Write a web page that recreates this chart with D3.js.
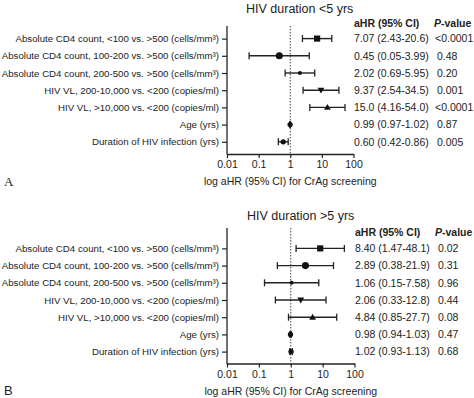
<!DOCTYPE html>
<html>
<head>
<meta charset="utf-8">
<script src="https://cdn.jsdelivr.net/npm/d3@7"></script>
<style>
  body { margin: 0; background: #fff; }
  text { font-family: "Liberation Sans", Arial, sans-serif; fill: #222; }
</style>
</head>
<body>
<div id="chart-area"></div>
<script>
// row labels (same for both panels)
const labels = [
    "Absolute CD4 count, <100 vs. >500 (cells/mm³)",
    "Absolute CD4 count, 100-200 vs. >500 (cells/mm³)",
    "Absolute CD4 count, 200-500 vs. >500 (cells/mm³)",
    "HIV VL, 200-10,000 vs. <200 (copies/ml)",
    "HIV VL, >10,000 vs. <200 (copies/ml)",
    "Age (yrs)",
    "Duration of HIV infection (yrs)"
]
const markers = ["square", "circle", "dot", "triDown", "triUp", "circleSm", "circleSm"]

// panel A: HIV duration <5 yrs
const hrA = [7.07, 0.45, 2.02, 9.37, 15.0, 0.99, 0.60]
const loA = [2.43, 0.05, 0.69, 2.54, 4.16, 0.97, 0.42]
const hiA = [20.6, 3.99, 5.95, 34.5, 54.0, 1.02, 0.86]
const ciTextA = ["7.07 (2.43-20.6)", "0.45 (0.05-3.99)", "2.02 (0.69-5.95)", "9.37 (2.54-34.5)",
    "15.0 (4.16-54.0)", "0.99 (0.97-1.02)", "0.60 (0.42-0.86)"]
const pA = ["<0.0001", "0.48", "0.20", "0.001", "<0.0001", "0.87", "0.005"]

// panel B: HIV duration >5 yrs
const hrB = [8.40, 2.89, 1.06, 2.06, 4.84, 0.98, 1.02]
const loB = [1.47, 0.38, 0.15, 0.33, 0.85, 0.94, 0.93]
const hiB = [48.1, 21.9, 7.58, 12.8, 27.7, 1.03, 1.13]
const ciTextB = ["8.40 (1.47-48.1)", "2.89 (0.38-21.9)", "1.06 (0.15-7.58)", "2.06 (0.33-12.8)",
    "4.84 (0.85-27.7)", "0.98 (0.94-1.03)", "1.02 (0.93-1.13)"]
const pB = ["0.02", "0.31", "0.96", "0.44", "0.08", "0.47", "0.68"]

const xTicks = [0.01, 0.1, 1, 10, 100]
const xTickLabels = ["0.01", "0.1", "1", "10", "100"]

const svg = d3.select("#chart-area")
    .append("svg")
    .attr("width", 474)
    .attr("height", 398)

const symbolFor = {
    square: { type: d3.symbolSquare, size: 38, rot: 0 },
    circle: { type: d3.symbolCircle, size: 40, rot: 0 },
    dot: { type: d3.symbolCircle, size: 13, rot: 0 },
    triDown: { type: d3.symbolTriangle, size: 20, rot: 180 },
    triUp: { type: d3.symbolTriangle, size: 20, rot: 0 },
    circleSm: { type: d3.symbolCircle, size: 22, rot: 0 }
}

function drawPanel(p) {
    const g = svg.append("g")

    const x = d3.scaleLog()
        .domain([0.01, 100])
        .range([227, p.xEnd])

    const y = d3.scalePoint()
        .domain(labels)
        .range([p.row1, p.row1 + 17.2 * 6])

    // x axis
    const xAxisCall = d3.axisBottom(x)
        .tickValues(xTicks)
        .tickFormat((d, i) => xTickLabels[i])
        .tickSize(4)
        .tickSizeOuter(0)
    const xa = g.append("g")
        .attr("transform", `translate(0, ${p.axisY})`)
        .call(xAxisCall)
    xa.select(".domain").attr("stroke", "#222").attr("stroke-width", 1.3)
    xa.selectAll(".tick line").attr("stroke", "#222").attr("stroke-width", 1.2)
    xa.selectAll("text").attr("font-size", "10.5px").attr("fill", "#222")
        .attr("font-family", "Liberation Sans, Arial, sans-serif").attr("y", 7)

    // y axis
    const yAxisCall = d3.axisLeft(y).tickSize(5).tickSizeOuter(0).tickPadding(3)
    const ya = g.append("g")
        .attr("transform", `translate(227, 0)`)
        .call(yAxisCall)
    ya.select(".domain").remove()
    ya.selectAll(".tick line").attr("stroke", "#222").attr("stroke-width", 1.2)
    ya.selectAll("text").attr("font-size", "9.7px").attr("fill", "#222")
        .attr("font-family", "Liberation Sans, Arial, sans-serif")
    g.append("line")
        .attr("x1", 227).attr("x2", 227)
        .attr("y1", p.axisTop).attr("y2", p.axisY + 0.6)
        .attr("stroke", "#222").attr("stroke-width", 1.3)

    // reference line at 1
    g.append("line")
        .attr("x1", x(1)).attr("x2", x(1))
        .attr("y1", p.axisTop).attr("y2", p.axisY)
        .attr("stroke", "#444").attr("stroke-width", 1)
        .attr("stroke-dasharray", "1.5,1.5")

    // error bars
    const rows = labels.map((l, i) => ({ label: l, hr: p.hr[i], lo: p.lo[i], hi: p.hi[i], mk: markers[i] }))
    const bars = g.selectAll(".bar").data(rows).enter().append("g")
    bars.append("line")
        .attr("x1", d => x(d.lo)).attr("x2", d => x(d.hi))
        .attr("y1", d => y(d.label)).attr("y2", d => y(d.label))
        .attr("stroke", "#222").attr("stroke-width", 1.4)
    bars.append("line")
        .attr("x1", d => x(d.lo)).attr("x2", d => x(d.lo))
        .attr("y1", d => y(d.label) - 3.5).attr("y2", d => y(d.label) + 3.5)
        .attr("stroke", "#222").attr("stroke-width", 1.3)
    bars.append("line")
        .attr("x1", d => x(d.hi)).attr("x2", d => x(d.hi))
        .attr("y1", d => y(d.label) - 3.5).attr("y2", d => y(d.label) + 3.5)
        .attr("stroke", "#222").attr("stroke-width", 1.3)
    bars.append("path")
        .attr("d", d => d3.symbol().type(symbolFor[d.mk].type).size(symbolFor[d.mk].size)())
        .attr("transform", d => `translate(${x(d.hr)}, ${y(d.label) + (d.mk === "triDown" ? -0.5 : d.mk === "triUp" ? 0.5 : 0)}) rotate(${symbolFor[d.mk].rot})`)
        .attr("fill", "#111")

    // text columns
    g.selectAll(".ci").data(p.ciText).enter().append("text")
        .attr("x", p.ciX)
        .attr("y", (d, i) => y(labels[i]) + 3.8)
        .attr("font-size", "10.5px")
        .text(d => d)
    g.selectAll(".pv").data(p.pv).enter().append("text")
        .attr("x", (d, i) => p.pX + (d[0] === "<" ? -2 : 0))
        .attr("y", (d, i) => y(labels[i]) + 3.8)
        .attr("font-size", "10.5px")
        .text(d => d)

    // headers
    g.append("text")
        .attr("x", p.ciX).attr("y", p.headY)
        .attr("font-size", "10.5px").attr("font-weight", "bold")
        .text("aHR (95% CI)")
    const ph = g.append("text")
        .attr("x", p.pX - 3).attr("y", p.headY)
        .attr("font-size", "10.5px").attr("font-weight", "bold")
    ph.append("tspan").attr("font-style", "italic").text("P")
    ph.append("tspan").text("-value")

    // title
    g.append("text")
        .attr("x", p.titleX).attr("y", p.titleY)
        .attr("font-size", "12.5px")
        .text(p.title)

    // x axis title
    g.append("text")
        .attr("x", x(1)).attr("y", p.axisY + 31)
        .attr("text-anchor", "middle")
        .attr("font-size", "10.5px")
        .text("log aHR (95% CI) for CrAg screening")

    // panel letter
    g.append("text")
        .attr("x", 4).attr("y", p.letterY)
        .attr("font-size", "13px")
        .style("font-family", p.letterFont)
        .text(p.letter)
}

drawPanel({
    hr: hrA, lo: loA, hi: hiA, ciText: ciTextA, pv: pA,
    title: "HIV duration <5 yrs", titleX: 246, titleY: 12.5,
    headY: 27, row1: 38.6, axisTop: 26, axisY: 154, xEnd: 353.5,
    ciX: 354, pX: 437, letter: "A", letterY: 186, letterFont: "Liberation Serif, Times New Roman, serif"
})
drawPanel({
    hr: hrB, lo: loB, hi: hiB, ciText: ciTextB, pv: pB,
    title: "HIV duration >5 yrs", titleX: 247, titleY: 219.5,
    headY: 235.5, row1: 248.4, axisTop: 228, axisY: 363.5, xEnd: 354.5,
    ciX: 355, pX: 438, letter: "B", letterY: 395, letterFont: "Liberation Sans, Arial, sans-serif"
})
</script>
</body>
</html>
